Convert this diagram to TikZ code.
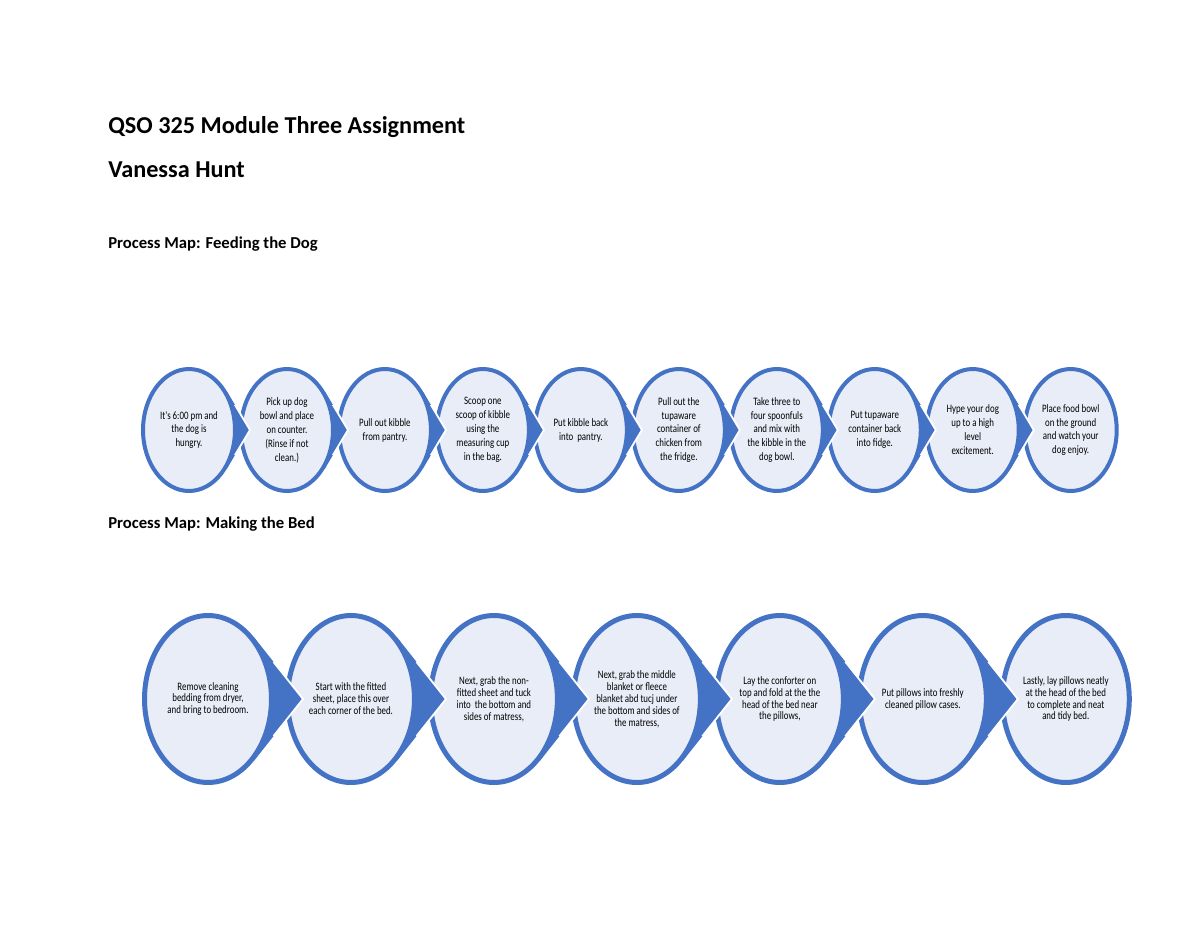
\documentclass[tikz,border=0pt]{standalone}
\usepackage{fontspec}
\setmainfont{Carlito}
\newfontfamily\narrowfont[FakeStretch=0.78]{Carlito}
\usetikzlibrary{shapes.geometric, positioning, calc}
\definecolor{ring}{RGB}{68,114,196}
\definecolor{core}{RGB}{233,237,247}
\tikzset{
  feedstep/.style={ellipse, draw=ring, fill=core, line width=2.64pt,
                   minimum width=60.7pt, minimum height=80.5pt,
                   inner sep=-4pt, outer sep=0pt, align=center,
                   font=\narrowfont\fontsize{7.5}{9.2}\selectfont},
  bedstep/.style={ellipse, draw=ring, fill=core, line width=3.3pt,
                  minimum width=83.8pt, minimum height=110.2pt,
                  inner sep=-6pt, outer sep=0pt, align=center,
                  font=\narrowfont\fontsize{7.5}{7.9}\selectfont},
  pointer/.style={fill=ring},
  pointer rim/.style={draw=white, line width=1.2pt},
  heading/.style={anchor=base west, inner sep=0pt, font=\bfseries\fontsize{16}{19}\selectfont},
  subheading/.style={anchor=base west, inner sep=0pt, font=\bfseries\fontsize{11}{13}\selectfont}
}
\begin{document}
\begin{tikzpicture}[x=0.66pt, y=-0.66pt]
  \useasboundingbox (0,0) rectangle (1200,927);

  % headings
  \node[heading] (title) at (108,133) {QSO 325 Module Three Assignment};
  \node[heading] (name) at (108,177) {Vanessa Hunt};
  \node[subheading] (mapa) at (108,248) {Process Map: Feeding the Dog};
  \node[subheading] (mapb) at (108,528) {Process Map: Making the Bed};

  % feeding the dog
  \begin{scope}[node distance=3.96pt]
    \node[feedstep] (d1) at (189,430) {It's 6:00 pm and\\the dog is\\hungry.};
    \node[feedstep, right=of d1] (d2) {Pick up dog\\bowl and place\\on counter.\\(Rinse if not\\clean.)};
    \node[feedstep, right=of d2] (d3) {Pull out kibble\\from pantry.};
    \node[feedstep, right=of d3] (d4) {Scoop one\\scoop of kibble\\using the\\measuring cup\\in the bag.};
    \node[feedstep, right=of d4] (d5) {Put kibble back\\into\ \ pantry.};
    \node[feedstep, right=of d5] (d6) {Pull out the\\tupaware\\container of\\chicken from\\the fridge.};
    \node[feedstep, right=of d6] (d7) {Take three to\\four spoonfuls\\and mix with\\the kibble in the\\dog bowl.};
    \node[feedstep, right=of d7] (d8) {Put tupaware\\container back\\into fidge.};
    \node[feedstep, right=of d8] (d9) {Hype your dog\\up to a high\\level\\excitement.};
    \node[feedstep, right=of d9] (d10) {Place food bowl\\on the ground\\and watch your\\dog enjoy.};
  \end{scope}
  \foreach \i in {1,...,9}{
    \fill[pointer] ($(d\i.center)+(37.8,-38.8)$) -- ($(d\i.center)+(61,0)$) -- ($(d\i.center)+(37.8,38.8)$)
      -- ($(d\i.center)+(36.2,37.6)$) arc[start angle=38.04, end angle=-38.04, x radius=46, y radius=61] -- cycle;
    \draw[pointer rim] ($(d\i.center)+(45.9,-25.2)$) -- ($(d\i.center)+(61,0)$) -- ($(d\i.center)+(45.9,25.2)$);
  }

  % making the bed
  \begin{scope}[node distance=10.56pt]
    \node[bedstep] (b1) at (208,699) {Remove cleaning\\bedding from dryer,\\and bring to bedroom.};
    \node[bedstep, right=of b1] (b2) {Start with the fitted\\sheet, place this over\\each corner of the bed.};
    \node[bedstep, right=of b2] (b3) {Next, grab the non-\\fitted sheet and tuck\\into\ \ the bottom and\\sides of matress,};
    \node[bedstep, right=of b3] (b4) {Next, grab the middle\\blanket or fleece\\blanket abd tucj under\\the bottom and sides of\\the matress,};
    \node[bedstep, right=of b4] (b5) {Lay the conforter on\\top and fold at the the\\head of the bed near\\the pillows,};
    \node[bedstep, right=of b5] (b6) {Put pillows into freshly\\cleaned pillow cases.};
    \node[bedstep, right=of b6] (b7) {Lastly, lay pillows neatly\\at the head of the bed\\to complete and neat\\and tidy bed.};
  \end{scope}
  \foreach \i in {1,...,6}{
    \fill[pointer] ($(b\i.center)+(45.9,-61.9)$) -- ($(b\i.center)+(95,0)$) -- ($(b\i.center)+(45.9,61.9)$)
      -- ($(b\i.center)+(44.15,60.05)$) arc[start angle=45.95, end angle=-45.95, x radius=63.5, y radius=83.5] -- cycle;
    \draw[pointer rim] ($(b\i.center)+(65.5,-37.1)$) -- ($(b\i.center)+(95,0)$) -- ($(b\i.center)+(65.5,37.1)$);
  }
\end{tikzpicture}
\end{document}
